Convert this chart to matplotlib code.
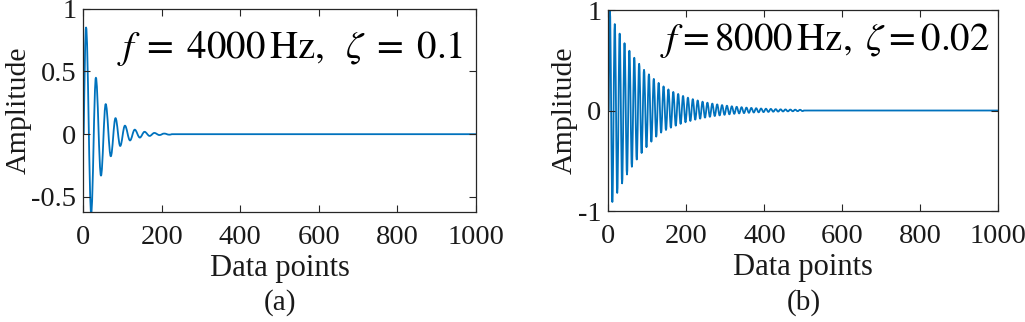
import matplotlib
matplotlib.use("Agg")
import matplotlib.pyplot as plt
from matplotlib.path import Path
from matplotlib.patches import PathPatch

plt.rcParams['font.family'] = ['Liberation Serif', 'DejaVu Serif']
plt.rcParams['mathtext.fontset'] = 'stix'
plt.rcParams['axes.unicode_minus'] = False

# ---- data ----
# panel (a): f = 4000 Hz, zeta = 0.1  (extremum positions / values)
a_ext_x = [7, 20, 32, 45, 57, 70, 82, 94, 106, 119, 131, 144, 156, 169, 181, 194, 206, 219]
a_ext_y = [0.85, -0.63, 0.45, -0.33, 0.24, -0.176, 0.128, -0.094, 0.068, -0.05,
           0.036, -0.027, 0.019, -0.014, 0.01, -0.007, 0.005, -0.004]

# panel (b): f = 8000 Hz, zeta = 0.02
b_peak_x = [4, 16.5, 29, 41.5, 54, 66.5, 79, 91.5, 104, 116.5, 129, 141.5, 154, 166.5,
            179, 191.5, 204, 216.5, 229, 241.5, 254, 266.5, 279, 291.5, 304, 316.5, 329,
            341.5, 354, 366.5, 379, 391.5, 404, 416.5, 429, 441.5, 454, 466.5, 479, 491.5]
b_peak_y = [0.99, 0.86, 0.765, 0.67, 0.595, 0.525, 0.465, 0.405, 0.36, 0.315, 0.275, 0.24,
            0.21, 0.185, 0.165, 0.145, 0.128, 0.113, 0.1, 0.088, 0.078, 0.069, 0.061, 0.054,
            0.048, 0.042, 0.037, 0.033, 0.029, 0.026, 0.023, 0.02, 0.018, 0.016, 0.014,
            0.012, 0.011, 0.0095, 0.0084, 0.0074]
b_trough_x = [10.3, 22.8, 35.3, 47.8, 60.3, 72.8, 85.3, 97.8, 110.3, 122.8, 135.3, 147.8,
              160.3, 172.8, 185.3, 197.8, 210.3, 222.8, 235.3, 247.8, 260.3, 272.8, 285.3,
              297.8, 310.3, 322.8, 335.3, 347.8, 360.3, 372.8, 385.3, 397.8, 410.3, 422.8,
              435.3, 447.8, 460.3, 472.8, 485.3, 497.8]
b_trough_y = [-0.91, -0.82, -0.725, -0.637, -0.56, -0.488, -0.423, -0.365, -0.31, -0.26,
              -0.22, -0.194, -0.171, -0.151, -0.133, -0.117, -0.104, -0.091, -0.081, -0.071,
              -0.063, -0.055, -0.049, -0.043, -0.038, -0.033, -0.029, -0.026, -0.023, -0.02,
              -0.018, -0.016, -0.014, -0.012, -0.011, -0.0096, -0.0085, -0.0075, -0.0066,
              -0.0058]

x_start = 1
x_end = 1000
x_ticks = [0, 200, 400, 600, 800, 1000]
a_yticks = [-0.5, 0, 0.5, 1]
a_yticklabels = ['-0.5', '0', '0.5', '1']
b_yticks = [-1, 0, 1]
b_yticklabels = ['-1', '0', '1']
a_title = r'$f\;=\;4000\,\mathrm{Hz},\;\;\zeta\;=\;0.1$'
b_title = r'$f=8000\,\mathrm{Hz},\;\zeta=0.02$'

LINE_COLOR = '#0072BD'
AX_COLOR = '#262626'
TXT_COLOR = '#1a1a1a'


def oscillation_path(ext_x, ext_y):
    """Smooth path through the read extrema (cubic Bezier segments)."""
    verts = [(x_start, 0.0)]
    codes = [Path.MOVETO]
    L = ext_x[0] - x_start
    verts += [(x_start + L / 3, ext_y[0] * 0.5236), (x_start + 0.64 * L, ext_y[0]),
              (ext_x[0], ext_y[0])]
    codes += [Path.CURVE4] * 3
    for i in range(1, len(ext_x)):
        x0, y0 = ext_x[i - 1], ext_y[i - 1]
        x1, y1 = ext_x[i], ext_y[i]
        H = x1 - x0
        verts += [(x0 + 0.3634 * H, y0), (x1 - 0.3634 * H, y1), (x1, y1)]
        codes += [Path.CURVE4] * 3
    xe, ye = ext_x[-1], ext_y[-1]
    L = (ext_x[-1] - ext_x[-2]) / 2
    verts += [(xe + 0.36 * L, ye), (xe + 2 * L / 3, ye * 0.5236), (xe + L, 0.0)]
    codes += [Path.CURVE4] * 3
    verts.append((x_end, 0.0))
    codes.append(Path.LINETO)
    return Path(verts, codes)


fig = plt.figure(figsize=(10.25, 3.22), dpi=100)
ax_a = fig.add_axes([0.0813, 0.3416, 0.3828, 0.6315])
ax_b = fig.add_axes([0.5935, 0.3447, 0.3806, 0.6242])

b_ext_x, b_ext_y = [], []
for px, py, tx, ty in zip(b_peak_x, b_peak_y, b_trough_x, b_trough_y):
    b_ext_x += [px, tx]
    b_ext_y += [py, ty]

panels = [
    (ax_a, a_ext_x, a_ext_y, (-0.62, 1), a_yticks, a_yticklabels, a_title, (0.968, 0.757), '(a)'),
    (ax_b, b_ext_x, b_ext_y, (-1, 1), b_yticks, b_yticklabels, b_title, (0.978, 0.80), '(b)'),
]

for ax, ex, ey, ylim, yt, ytl, title, tpos, tag in panels:
    patch = PathPatch(oscillation_path(ex, ey), facecolor='none', edgecolor=LINE_COLOR,
                      lw=1.3, joinstyle='round', capstyle='round')
    ax.add_patch(patch)
    ax.set_xlim(0, 1000)
    ax.set_ylim(*ylim)
    ax.set_xticks(x_ticks)
    ax.set_yticks(yt)
    ax.set_yticklabels(ytl)
    ax.tick_params(direction='in', length=5, width=0.8, top=True, right=True,
                   labelsize=20.5, colors=AX_COLOR, labelcolor=TXT_COLOR)
    ax.tick_params(axis='x', pad=9)
    ax.tick_params(axis='y', pad=5)
    for s in ax.spines.values():
        s.set_linewidth(0.9)
        s.set_color(AX_COLOR)
    ax.set_xlabel('Data points', fontsize=22, color=TXT_COLOR, labelpad=3)
    ax.set_ylabel('Amplitude', fontsize=21.5, color=TXT_COLOR, labelpad=0)
    ax.text(tpos[0], tpos[1], title, transform=ax.transAxes, ha='right', va='baseline',
            fontsize=28, color='black')
    pos = ax.get_position()
    fig.text((pos.x0 + pos.x1) / 2, 0.059, tag, ha='center', va='center',
             fontsize=21, color=TXT_COLOR)

fig.savefig('out.png', dpi=100)
